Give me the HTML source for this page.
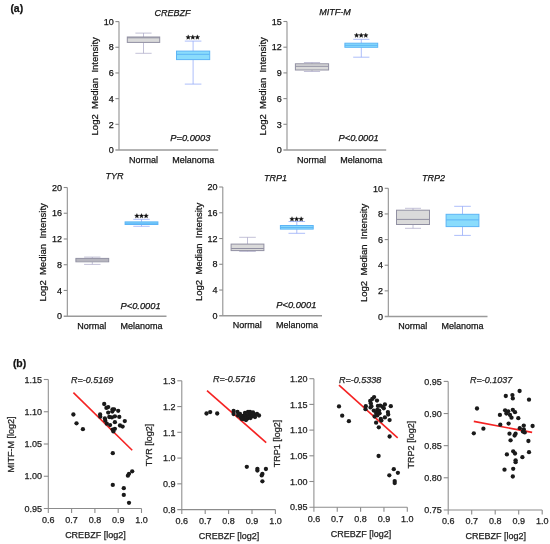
<!DOCTYPE html>
<html><head><meta charset="utf-8"><title>Figure</title>
<style>
html,body{margin:0;padding:0;background:#fff;width:550px;height:544px;overflow:hidden}
svg{display:block;font-family:"Liberation Sans",sans-serif;will-change:transform;filter:blur(0.3px)}
text{stroke:#222;stroke-width:0.25px;paint-order:stroke}
</style></head>
<body>
<svg width="550" height="544" viewBox="0 0 550 544">
<rect width="550" height="544" fill="#fff"/>
<text x="10.4" y="11.7" font-size="10.4" text-anchor="start" fill="#111" font-weight="bold" >(a)</text>
<text x="12.9" y="366.6" font-size="10.4" text-anchor="start" fill="#111" font-weight="bold" >(b)</text>
<line x1="119" y1="21.6" x2="119" y2="150" stroke="#8c8c8c" stroke-width="1.05"/>
<line x1="115.4" y1="150" x2="218.2" y2="150" stroke="#9a9a9a" stroke-width="1.6"/>
<text x="113.8" y="153.2" font-size="9" text-anchor="end" fill="#111"  >0</text>
<line x1="115.4" y1="124.32" x2="119" y2="124.32" stroke="#8c8c8c" stroke-width="1.1"/>
<text x="113.8" y="127.52" font-size="9" text-anchor="end" fill="#111"  >2</text>
<line x1="115.4" y1="98.64" x2="119" y2="98.64" stroke="#8c8c8c" stroke-width="1.1"/>
<text x="113.8" y="101.84" font-size="9" text-anchor="end" fill="#111"  >4</text>
<line x1="115.4" y1="72.96000000000001" x2="119" y2="72.96000000000001" stroke="#8c8c8c" stroke-width="1.1"/>
<text x="113.8" y="76.16000000000001" font-size="9" text-anchor="end" fill="#111"  >6</text>
<line x1="115.4" y1="47.28" x2="119" y2="47.28" stroke="#8c8c8c" stroke-width="1.1"/>
<text x="113.8" y="50.480000000000004" font-size="9" text-anchor="end" fill="#111"  >8</text>
<line x1="115.4" y1="21.599999999999994" x2="119" y2="21.599999999999994" stroke="#8c8c8c" stroke-width="1.1"/>
<text x="113.8" y="24.799999999999994" font-size="9" text-anchor="end" fill="#111"  >10</text>
<text x="172.4" y="15.6" font-size="9" text-anchor="middle" fill="#111" font-style="italic" >CREBZF</text>
<text x="210.4" y="140.8" font-size="9.3" text-anchor="end" fill="#111" font-style="italic" >P=0.0003</text>
<text x="143.5" y="162.6" font-size="9" text-anchor="middle" fill="#111"  >Normal</text>
<text x="193.2" y="162.6" font-size="9" text-anchor="middle" fill="#111"  >Melanoma</text>
<text x="98" y="86.3" font-size="9.5" text-anchor="middle" fill="#111"  transform="rotate(-90 98 86.3)" >Log2&#160;&#160;Median&#160;&#160;Intensity</text>
<line x1="143.5" y1="33.1" x2="143.5" y2="37.0" stroke="#adabc8" stroke-width="0.75"/>
<line x1="143.5" y1="42.4" x2="143.5" y2="53.3" stroke="#adabc8" stroke-width="0.75"/>
<line x1="135.4" y1="33.1" x2="151.6" y2="33.1" stroke="#adabc8" stroke-width="0.75"/>
<line x1="135.4" y1="53.3" x2="151.6" y2="53.3" stroke="#adabc8" stroke-width="0.75"/>
<rect x="127.3" y="37.0" width="32.4" height="5.399999999999999" fill="#dadada" stroke="#9190a2" stroke-width="1"/>
<line x1="127.3" y1="37.8" x2="159.7" y2="37.8" stroke="#9190a2" stroke-width="1"/>
<line x1="193.1" y1="41.1" x2="193.1" y2="51.1" stroke="#92a8f8" stroke-width="0.75"/>
<line x1="193.1" y1="59.6" x2="193.1" y2="84.1" stroke="#92a8f8" stroke-width="0.75"/>
<line x1="184.79999999999998" y1="41.1" x2="201.4" y2="41.1" stroke="#92a8f8" stroke-width="0.75"/>
<line x1="184.79999999999998" y1="84.1" x2="201.4" y2="84.1" stroke="#92a8f8" stroke-width="0.75"/>
<rect x="176.5" y="51.1" width="33.2" height="8.5" fill="#8adcfc" stroke="#5cb4f6" stroke-width="1"/>
<line x1="176.5" y1="54.3" x2="209.7" y2="54.3" stroke="#5cb4f6" stroke-width="1"/>
<polygon points="188.20,34.85 188.85,36.41 190.53,36.54 189.25,37.64 189.64,39.28 188.20,38.40 186.76,39.28 187.15,37.64 185.87,36.54 187.55,36.41" fill="#111" stroke="#111" stroke-width="0.3" stroke-linejoin="round"/>
<polygon points="192.80,34.85 193.45,36.41 195.13,36.54 193.85,37.64 194.24,39.28 192.80,38.40 191.36,39.28 191.75,37.64 190.47,36.54 192.15,36.41" fill="#111" stroke="#111" stroke-width="0.3" stroke-linejoin="round"/>
<polygon points="197.40,34.85 198.05,36.41 199.73,36.54 198.45,37.64 198.84,39.28 197.40,38.40 195.96,39.28 196.35,37.64 195.07,36.54 196.75,36.41" fill="#111" stroke="#111" stroke-width="0.3" stroke-linejoin="round"/>
<line x1="287" y1="21.5" x2="287" y2="150" stroke="#8c8c8c" stroke-width="1.05"/>
<line x1="283.4" y1="150" x2="386.2" y2="150" stroke="#9a9a9a" stroke-width="1.6"/>
<text x="281.8" y="153.2" font-size="9" text-anchor="end" fill="#111"  >0</text>
<line x1="283.4" y1="124.3" x2="287" y2="124.3" stroke="#8c8c8c" stroke-width="1.1"/>
<text x="281.8" y="127.5" font-size="9" text-anchor="end" fill="#111"  >3</text>
<line x1="283.4" y1="98.6" x2="287" y2="98.6" stroke="#8c8c8c" stroke-width="1.1"/>
<text x="281.8" y="101.8" font-size="9" text-anchor="end" fill="#111"  >6</text>
<line x1="283.4" y1="72.9" x2="287" y2="72.9" stroke="#8c8c8c" stroke-width="1.1"/>
<text x="281.8" y="76.10000000000001" font-size="9" text-anchor="end" fill="#111"  >9</text>
<line x1="283.4" y1="47.2" x2="287" y2="47.2" stroke="#8c8c8c" stroke-width="1.1"/>
<text x="281.8" y="50.400000000000006" font-size="9" text-anchor="end" fill="#111"  >12</text>
<line x1="283.4" y1="21.5" x2="287" y2="21.5" stroke="#8c8c8c" stroke-width="1.1"/>
<text x="281.8" y="24.7" font-size="9" text-anchor="end" fill="#111"  >15</text>
<text x="335.0" y="14.6" font-size="9" text-anchor="middle" fill="#111" font-style="italic" >MITF-M</text>
<text x="378.6" y="140.6" font-size="9.3" text-anchor="end" fill="#111" font-style="italic" >P&lt;0.0001</text>
<text x="311.5" y="162.6" font-size="9" text-anchor="middle" fill="#111"  >Normal</text>
<text x="361.2" y="162.6" font-size="9" text-anchor="middle" fill="#111"  >Melanoma</text>
<text x="266" y="86.25" font-size="9.5" text-anchor="middle" fill="#111"  transform="rotate(-90 266 86.25)" >Log2&#160;&#160;Median&#160;&#160;Intensity</text>
<line x1="312.0" y1="62.5" x2="312.0" y2="63.8" stroke="#adabc8" stroke-width="0.75"/>
<line x1="312.0" y1="70.0" x2="312.0" y2="71.5" stroke="#adabc8" stroke-width="0.75"/>
<line x1="303.9" y1="62.5" x2="320.1" y2="62.5" stroke="#adabc8" stroke-width="0.75"/>
<line x1="303.9" y1="71.5" x2="320.1" y2="71.5" stroke="#adabc8" stroke-width="0.75"/>
<rect x="295.4" y="63.8" width="33.2" height="6.200000000000003" fill="#dadada" stroke="#9190a2" stroke-width="1"/>
<line x1="295.4" y1="66.3" x2="328.6" y2="66.3" stroke="#9190a2" stroke-width="1"/>
<line x1="361.3" y1="39.3" x2="361.3" y2="43.2" stroke="#92a8f8" stroke-width="0.75"/>
<line x1="361.3" y1="47.3" x2="361.3" y2="57.2" stroke="#92a8f8" stroke-width="0.75"/>
<line x1="353.2" y1="39.3" x2="369.40000000000003" y2="39.3" stroke="#92a8f8" stroke-width="0.75"/>
<line x1="353.2" y1="57.2" x2="369.40000000000003" y2="57.2" stroke="#92a8f8" stroke-width="0.75"/>
<rect x="344.90000000000003" y="43.2" width="32.8" height="4.099999999999994" fill="#8adcfc" stroke="#5cb4f6" stroke-width="1"/>
<line x1="344.90000000000003" y1="45.3" x2="377.7" y2="45.3" stroke="#5cb4f6" stroke-width="1"/>
<polygon points="356.60,32.95 357.25,34.51 358.93,34.64 357.65,35.74 358.04,37.38 356.60,36.50 355.16,37.38 355.55,35.74 354.27,34.64 355.95,34.51" fill="#111" stroke="#111" stroke-width="0.3" stroke-linejoin="round"/>
<polygon points="361.20,32.95 361.85,34.51 363.53,34.64 362.25,35.74 362.64,37.38 361.20,36.50 359.76,37.38 360.15,35.74 358.87,34.64 360.55,34.51" fill="#111" stroke="#111" stroke-width="0.3" stroke-linejoin="round"/>
<polygon points="365.80,32.95 366.45,34.51 368.13,34.64 366.85,35.74 367.24,37.38 365.80,36.50 364.36,37.38 364.75,35.74 363.47,34.64 365.15,34.51" fill="#111" stroke="#111" stroke-width="0.3" stroke-linejoin="round"/>
<line x1="67.3" y1="187.5" x2="67.3" y2="316.2" stroke="#8c8c8c" stroke-width="1.05"/>
<line x1="63.699999999999996" y1="316.2" x2="166.5" y2="316.2" stroke="#9a9a9a" stroke-width="1.6"/>
<text x="62.099999999999994" y="319.4" font-size="9" text-anchor="end" fill="#111"  >0</text>
<line x1="63.699999999999996" y1="290.46" x2="67.3" y2="290.46" stroke="#8c8c8c" stroke-width="1.1"/>
<text x="62.099999999999994" y="293.65999999999997" font-size="9" text-anchor="end" fill="#111"  >4</text>
<line x1="63.699999999999996" y1="264.71999999999997" x2="67.3" y2="264.71999999999997" stroke="#8c8c8c" stroke-width="1.1"/>
<text x="62.099999999999994" y="267.91999999999996" font-size="9" text-anchor="end" fill="#111"  >8</text>
<line x1="63.699999999999996" y1="238.98" x2="67.3" y2="238.98" stroke="#8c8c8c" stroke-width="1.1"/>
<text x="62.099999999999994" y="242.17999999999998" font-size="9" text-anchor="end" fill="#111"  >12</text>
<line x1="63.699999999999996" y1="213.24" x2="67.3" y2="213.24" stroke="#8c8c8c" stroke-width="1.1"/>
<text x="62.099999999999994" y="216.44" font-size="9" text-anchor="end" fill="#111"  >16</text>
<line x1="63.699999999999996" y1="187.5" x2="67.3" y2="187.5" stroke="#8c8c8c" stroke-width="1.1"/>
<text x="62.099999999999994" y="190.7" font-size="9" text-anchor="end" fill="#111"  >20</text>
<text x="114.5" y="179.4" font-size="9" text-anchor="middle" fill="#111" font-style="italic" >TYR</text>
<text x="160.6" y="308.6" font-size="9.3" text-anchor="end" fill="#111" font-style="italic" >P&lt;0.0001</text>
<text x="91.8" y="328.8" font-size="9" text-anchor="middle" fill="#111"  >Normal</text>
<text x="141.5" y="328.8" font-size="9" text-anchor="middle" fill="#111"  >Melanoma</text>
<text x="46.3" y="252.35" font-size="9.5" text-anchor="middle" fill="#111"  transform="rotate(-90 46.3 252.35)" >Log2&#160;&#160;Median&#160;&#160;Intensity</text>
<line x1="92.3" y1="257.1" x2="92.3" y2="258.4" stroke="#adabc8" stroke-width="0.75"/>
<line x1="92.3" y1="261.8" x2="92.3" y2="264.4" stroke="#adabc8" stroke-width="0.75"/>
<line x1="84.1" y1="257.1" x2="100.5" y2="257.1" stroke="#adabc8" stroke-width="0.75"/>
<line x1="84.1" y1="264.4" x2="100.5" y2="264.4" stroke="#adabc8" stroke-width="0.75"/>
<rect x="75.9" y="258.4" width="32.8" height="3.400000000000034" fill="#dadada" stroke="#9190a2" stroke-width="1"/>
<line x1="75.9" y1="260.0" x2="108.69999999999999" y2="260.0" stroke="#9190a2" stroke-width="1"/>
<line x1="141.5" y1="219.3" x2="141.5" y2="221.9" stroke="#92a8f8" stroke-width="0.75"/>
<line x1="141.5" y1="224.5" x2="141.5" y2="226.3" stroke="#92a8f8" stroke-width="0.75"/>
<line x1="133.3" y1="219.3" x2="149.7" y2="219.3" stroke="#92a8f8" stroke-width="0.75"/>
<line x1="133.3" y1="226.3" x2="149.7" y2="226.3" stroke="#92a8f8" stroke-width="0.75"/>
<rect x="125.1" y="221.9" width="32.8" height="2.5999999999999943" fill="#8adcfc" stroke="#5cb4f6" stroke-width="1"/>
<line x1="125.1" y1="223.2" x2="157.9" y2="223.2" stroke="#5cb4f6" stroke-width="1"/>
<polygon points="136.90,213.55 137.55,215.11 139.23,215.24 137.95,216.34 138.34,217.98 136.90,217.10 135.46,217.98 135.85,216.34 134.57,215.24 136.25,215.11" fill="#111" stroke="#111" stroke-width="0.3" stroke-linejoin="round"/>
<polygon points="141.50,213.55 142.15,215.11 143.83,215.24 142.55,216.34 142.94,217.98 141.50,217.10 140.06,217.98 140.45,216.34 139.17,215.24 140.85,215.11" fill="#111" stroke="#111" stroke-width="0.3" stroke-linejoin="round"/>
<polygon points="146.10,213.55 146.75,215.11 148.43,215.24 147.15,216.34 147.54,217.98 146.10,217.10 144.66,217.98 145.05,216.34 143.77,215.24 145.45,215.11" fill="#111" stroke="#111" stroke-width="0.3" stroke-linejoin="round"/>
<line x1="222.8" y1="187.0" x2="222.8" y2="315.8" stroke="#8c8c8c" stroke-width="1.05"/>
<line x1="219.20000000000002" y1="315.8" x2="322.0" y2="315.8" stroke="#9a9a9a" stroke-width="1.6"/>
<text x="217.60000000000002" y="319.0" font-size="9" text-anchor="end" fill="#111"  >0</text>
<line x1="219.20000000000002" y1="290.04" x2="222.8" y2="290.04" stroke="#8c8c8c" stroke-width="1.1"/>
<text x="217.60000000000002" y="293.24" font-size="9" text-anchor="end" fill="#111"  >4</text>
<line x1="219.20000000000002" y1="264.28000000000003" x2="222.8" y2="264.28000000000003" stroke="#8c8c8c" stroke-width="1.1"/>
<text x="217.60000000000002" y="267.48" font-size="9" text-anchor="end" fill="#111"  >8</text>
<line x1="219.20000000000002" y1="238.52" x2="222.8" y2="238.52" stroke="#8c8c8c" stroke-width="1.1"/>
<text x="217.60000000000002" y="241.72" font-size="9" text-anchor="end" fill="#111"  >12</text>
<line x1="219.20000000000002" y1="212.76" x2="222.8" y2="212.76" stroke="#8c8c8c" stroke-width="1.1"/>
<text x="217.60000000000002" y="215.95999999999998" font-size="9" text-anchor="end" fill="#111"  >16</text>
<line x1="219.20000000000002" y1="187.0" x2="222.8" y2="187.0" stroke="#8c8c8c" stroke-width="1.1"/>
<text x="217.60000000000002" y="190.2" font-size="9" text-anchor="end" fill="#111"  >20</text>
<text x="275.6" y="180.8" font-size="9" text-anchor="middle" fill="#111" font-style="italic" >TRP1</text>
<text x="316.4" y="308.4" font-size="9.3" text-anchor="end" fill="#111" font-style="italic" >P&lt;0.0001</text>
<text x="247.3" y="328.40000000000003" font-size="9" text-anchor="middle" fill="#111"  >Normal</text>
<text x="297.0" y="328.40000000000003" font-size="9" text-anchor="middle" fill="#111"  >Melanoma</text>
<text x="201.8" y="251.9" font-size="9.5" text-anchor="middle" fill="#111"  transform="rotate(-90 201.8 251.9)" >Log2&#160;&#160;Median&#160;&#160;Intensity</text>
<line x1="247.5" y1="237.3" x2="247.5" y2="244.1" stroke="#adabc8" stroke-width="0.75"/>
<line x1="247.5" y1="250.6" x2="247.5" y2="251.4" stroke="#adabc8" stroke-width="0.75"/>
<line x1="239.2" y1="237.3" x2="255.8" y2="237.3" stroke="#adabc8" stroke-width="0.75"/>
<line x1="239.2" y1="251.4" x2="255.8" y2="251.4" stroke="#adabc8" stroke-width="0.75"/>
<rect x="231.1" y="244.1" width="32.8" height="6.5" fill="#dadada" stroke="#9190a2" stroke-width="1"/>
<line x1="231.1" y1="248.5" x2="263.9" y2="248.5" stroke="#9190a2" stroke-width="1"/>
<line x1="296.8" y1="221.5" x2="296.8" y2="225.5" stroke="#92a8f8" stroke-width="0.75"/>
<line x1="296.8" y1="229.1" x2="296.8" y2="233.3" stroke="#92a8f8" stroke-width="0.75"/>
<line x1="288.5" y1="221.5" x2="305.1" y2="221.5" stroke="#92a8f8" stroke-width="0.75"/>
<line x1="288.5" y1="233.3" x2="305.1" y2="233.3" stroke="#92a8f8" stroke-width="0.75"/>
<rect x="280.40000000000003" y="225.5" width="32.8" height="3.5999999999999943" fill="#8adcfc" stroke="#5cb4f6" stroke-width="1"/>
<line x1="280.40000000000003" y1="227.4" x2="313.2" y2="227.4" stroke="#5cb4f6" stroke-width="1"/>
<polygon points="292.00,216.65 292.65,218.21 294.33,218.34 293.05,219.44 293.44,221.08 292.00,220.20 290.56,221.08 290.95,219.44 289.67,218.34 291.35,218.21" fill="#111" stroke="#111" stroke-width="0.3" stroke-linejoin="round"/>
<polygon points="296.60,216.65 297.25,218.21 298.93,218.34 297.65,219.44 298.04,221.08 296.60,220.20 295.16,221.08 295.55,219.44 294.27,218.34 295.95,218.21" fill="#111" stroke="#111" stroke-width="0.3" stroke-linejoin="round"/>
<polygon points="301.20,216.65 301.85,218.21 303.53,218.34 302.25,219.44 302.64,221.08 301.20,220.20 299.76,221.08 300.15,219.44 298.87,218.34 300.55,218.21" fill="#111" stroke="#111" stroke-width="0.3" stroke-linejoin="round"/>
<line x1="388.3" y1="188.3" x2="388.3" y2="316.5" stroke="#8c8c8c" stroke-width="1.05"/>
<line x1="384.7" y1="316.5" x2="487.5" y2="316.5" stroke="#9a9a9a" stroke-width="1.6"/>
<text x="383.1" y="319.7" font-size="9" text-anchor="end" fill="#111"  >0</text>
<line x1="384.7" y1="290.86" x2="388.3" y2="290.86" stroke="#8c8c8c" stroke-width="1.1"/>
<text x="383.1" y="294.06" font-size="9" text-anchor="end" fill="#111"  >2</text>
<line x1="384.7" y1="265.22" x2="388.3" y2="265.22" stroke="#8c8c8c" stroke-width="1.1"/>
<text x="383.1" y="268.42" font-size="9" text-anchor="end" fill="#111"  >4</text>
<line x1="384.7" y1="239.58" x2="388.3" y2="239.58" stroke="#8c8c8c" stroke-width="1.1"/>
<text x="383.1" y="242.78" font-size="9" text-anchor="end" fill="#111"  >6</text>
<line x1="384.7" y1="213.94" x2="388.3" y2="213.94" stroke="#8c8c8c" stroke-width="1.1"/>
<text x="383.1" y="217.14" font-size="9" text-anchor="end" fill="#111"  >8</text>
<line x1="384.7" y1="188.3" x2="388.3" y2="188.3" stroke="#8c8c8c" stroke-width="1.1"/>
<text x="383.1" y="191.5" font-size="9" text-anchor="end" fill="#111"  >10</text>
<text x="433.6" y="181.3" font-size="9" text-anchor="middle" fill="#111" font-style="italic" >TRP2</text>
<text x="412.8" y="329.1" font-size="9" text-anchor="middle" fill="#111"  >Normal</text>
<text x="462.5" y="329.1" font-size="9" text-anchor="middle" fill="#111"  >Melanoma</text>
<text x="367.3" y="252.9" font-size="9.5" text-anchor="middle" fill="#111"  transform="rotate(-90 367.3 252.9)" >Log2&#160;&#160;Median&#160;&#160;Intensity</text>
<line x1="413.0" y1="208.3" x2="413.0" y2="210.2" stroke="#adabc8" stroke-width="0.75"/>
<line x1="413.0" y1="224.5" x2="413.0" y2="228.3" stroke="#adabc8" stroke-width="0.75"/>
<line x1="405.0" y1="208.3" x2="421.0" y2="208.3" stroke="#adabc8" stroke-width="0.75"/>
<line x1="405.0" y1="228.3" x2="421.0" y2="228.3" stroke="#adabc8" stroke-width="0.75"/>
<rect x="396.5" y="210.2" width="33.0" height="14.300000000000011" fill="#dadada" stroke="#9190a2" stroke-width="1"/>
<line x1="396.5" y1="219.4" x2="429.5" y2="219.4" stroke="#9190a2" stroke-width="1"/>
<line x1="462.5" y1="206.3" x2="462.5" y2="214.3" stroke="#92a8f8" stroke-width="0.75"/>
<line x1="462.5" y1="226.6" x2="462.5" y2="235.4" stroke="#92a8f8" stroke-width="0.75"/>
<line x1="454.2" y1="206.3" x2="470.8" y2="206.3" stroke="#92a8f8" stroke-width="0.75"/>
<line x1="454.2" y1="235.4" x2="470.8" y2="235.4" stroke="#92a8f8" stroke-width="0.75"/>
<rect x="446.1" y="214.3" width="32.8" height="12.299999999999983" fill="#8adcfc" stroke="#5cb4f6" stroke-width="1"/>
<line x1="446.1" y1="219.9" x2="478.9" y2="219.9" stroke="#5cb4f6" stroke-width="1"/>
<line x1="48.3" y1="379.5" x2="48.3" y2="513.0" stroke="#8c8c8c" stroke-width="1.05"/>
<line x1="43.8" y1="508.5" x2="141.5" y2="508.5" stroke="#8c8c8c" stroke-width="1.05"/>
<text x="42.0" y="511.7" font-size="9" text-anchor="end" fill="#222"  >0.95</text>
<line x1="43.8" y1="476.25" x2="48.3" y2="476.25" stroke="#8c8c8c" stroke-width="1.1"/>
<text x="42.0" y="479.45" font-size="9" text-anchor="end" fill="#222"  >1.00</text>
<line x1="43.8" y1="444.0" x2="48.3" y2="444.0" stroke="#8c8c8c" stroke-width="1.1"/>
<text x="42.0" y="447.2" font-size="9" text-anchor="end" fill="#222"  >1.05</text>
<line x1="43.8" y1="411.75" x2="48.3" y2="411.75" stroke="#8c8c8c" stroke-width="1.1"/>
<text x="42.0" y="414.95" font-size="9" text-anchor="end" fill="#222"  >1.10</text>
<line x1="43.8" y1="379.5" x2="48.3" y2="379.5" stroke="#8c8c8c" stroke-width="1.1"/>
<text x="42.0" y="382.7" font-size="9" text-anchor="end" fill="#222"  >1.15</text>
<text x="48.3" y="522.8" font-size="9" text-anchor="middle" fill="#222"  >0.6</text>
<line x1="71.6" y1="508.5" x2="71.6" y2="513.0" stroke="#8c8c8c" stroke-width="1.1"/>
<text x="71.6" y="522.8" font-size="9" text-anchor="middle" fill="#222"  >0.7</text>
<line x1="94.9" y1="508.5" x2="94.9" y2="513.0" stroke="#8c8c8c" stroke-width="1.1"/>
<text x="94.9" y="522.8" font-size="9" text-anchor="middle" fill="#222"  >0.8</text>
<line x1="118.2" y1="508.5" x2="118.2" y2="513.0" stroke="#8c8c8c" stroke-width="1.1"/>
<text x="118.2" y="522.8" font-size="9" text-anchor="middle" fill="#222"  >0.9</text>
<line x1="141.5" y1="508.5" x2="141.5" y2="513.0" stroke="#8c8c8c" stroke-width="1.1"/>
<text x="141.5" y="522.8" font-size="9" text-anchor="middle" fill="#222"  >1.0</text>
<text x="95.4" y="538.0" font-size="9" text-anchor="middle" fill="#222"  >CREBZF [log2]</text>
<text x="14.4" y="444.4" font-size="9" text-anchor="middle" fill="#222"  transform="rotate(-90 14.4 444.4)" >MITF-M [log2]</text>
<text x="71" y="383.2" font-size="9" text-anchor="start" fill="#222" font-style="italic" >R=-0.5169</text>
<line x1="73.4" y1="392.6" x2="132.2" y2="450.3" stroke="#f52222" stroke-width="1.6"/>
<circle cx="73.4" cy="414.5" r="2.15" fill="#1a1a1a"/>
<circle cx="76.5" cy="423.3" r="2.15" fill="#1a1a1a"/>
<circle cx="82.9" cy="429.2" r="2.15" fill="#1a1a1a"/>
<circle cx="112.8" cy="453.2" r="2.15" fill="#1a1a1a"/>
<circle cx="104.2" cy="404" r="2.15" fill="#1a1a1a"/>
<circle cx="106.4" cy="407.9" r="2.15" fill="#1a1a1a"/>
<circle cx="108.2" cy="407.1" r="2.15" fill="#1a1a1a"/>
<circle cx="112.6" cy="409.3" r="2.15" fill="#1a1a1a"/>
<circle cx="114.1" cy="409.3" r="2.15" fill="#1a1a1a"/>
<circle cx="118.2" cy="410.8" r="2.15" fill="#1a1a1a"/>
<circle cx="108.2" cy="412.6" r="2.15" fill="#1a1a1a"/>
<circle cx="112.3" cy="411.5" r="2.15" fill="#1a1a1a"/>
<circle cx="100.1" cy="414.5" r="2.15" fill="#1a1a1a"/>
<circle cx="100.3" cy="416.7" r="2.15" fill="#1a1a1a"/>
<circle cx="109.3" cy="417" r="2.15" fill="#1a1a1a"/>
<circle cx="111.9" cy="417.4" r="2.15" fill="#1a1a1a"/>
<circle cx="114.9" cy="416.3" r="2.15" fill="#1a1a1a"/>
<circle cx="119.3" cy="416.9" r="2.15" fill="#1a1a1a"/>
<circle cx="104.9" cy="418.5" r="2.15" fill="#1a1a1a"/>
<circle cx="105.3" cy="420.7" r="2.15" fill="#1a1a1a"/>
<circle cx="114.9" cy="422.2" r="2.15" fill="#1a1a1a"/>
<circle cx="124.8" cy="421.1" r="2.15" fill="#1a1a1a"/>
<circle cx="106.8" cy="423.7" r="2.15" fill="#1a1a1a"/>
<circle cx="110.1" cy="425.1" r="2.15" fill="#1a1a1a"/>
<circle cx="120" cy="425.5" r="2.15" fill="#1a1a1a"/>
<circle cx="122.6" cy="426.6" r="2.15" fill="#1a1a1a"/>
<circle cx="112.6" cy="429.6" r="2.15" fill="#1a1a1a"/>
<circle cx="114.9" cy="428.8" r="2.15" fill="#1a1a1a"/>
<circle cx="113.4" cy="431.4" r="2.15" fill="#1a1a1a"/>
<circle cx="132.2" cy="471.3" r="2.15" fill="#1a1a1a"/>
<circle cx="129" cy="473.8" r="2.15" fill="#1a1a1a"/>
<circle cx="127.9" cy="475.7" r="2.15" fill="#1a1a1a"/>
<circle cx="112.8" cy="484.9" r="2.15" fill="#1a1a1a"/>
<circle cx="123.8" cy="488.2" r="2.15" fill="#1a1a1a"/>
<circle cx="123.8" cy="494.9" r="2.15" fill="#1a1a1a"/>
<circle cx="129" cy="502.8" r="2.15" fill="#1a1a1a"/>
<line x1="181.8" y1="380.8" x2="181.8" y2="514.1" stroke="#8c8c8c" stroke-width="1.05"/>
<line x1="177.3" y1="509.6" x2="275.4" y2="509.6" stroke="#8c8c8c" stroke-width="1.05"/>
<text x="175.5" y="512.8000000000001" font-size="9" text-anchor="end" fill="#222"  >0.8</text>
<line x1="177.3" y1="483.84000000000003" x2="181.8" y2="483.84000000000003" stroke="#8c8c8c" stroke-width="1.1"/>
<text x="175.5" y="487.04" font-size="9" text-anchor="end" fill="#222"  >0.9</text>
<line x1="177.3" y1="458.08000000000004" x2="181.8" y2="458.08000000000004" stroke="#8c8c8c" stroke-width="1.1"/>
<text x="175.5" y="461.28000000000003" font-size="9" text-anchor="end" fill="#222"  >1.0</text>
<line x1="177.3" y1="432.32000000000005" x2="181.8" y2="432.32000000000005" stroke="#8c8c8c" stroke-width="1.1"/>
<text x="175.5" y="435.52000000000004" font-size="9" text-anchor="end" fill="#222"  >1.1</text>
<line x1="177.3" y1="406.56" x2="181.8" y2="406.56" stroke="#8c8c8c" stroke-width="1.1"/>
<text x="175.5" y="409.76" font-size="9" text-anchor="end" fill="#222"  >1.2</text>
<line x1="177.3" y1="380.8" x2="181.8" y2="380.8" stroke="#8c8c8c" stroke-width="1.1"/>
<text x="175.5" y="384.0" font-size="9" text-anchor="end" fill="#222"  >1.3</text>
<text x="181.8" y="523.9" font-size="9" text-anchor="middle" fill="#222"  >0.6</text>
<line x1="205.20000000000002" y1="509.6" x2="205.20000000000002" y2="514.1" stroke="#8c8c8c" stroke-width="1.1"/>
<text x="205.20000000000002" y="523.9" font-size="9" text-anchor="middle" fill="#222"  >0.7</text>
<line x1="228.60000000000002" y1="509.6" x2="228.60000000000002" y2="514.1" stroke="#8c8c8c" stroke-width="1.1"/>
<text x="228.60000000000002" y="523.9" font-size="9" text-anchor="middle" fill="#222"  >0.8</text>
<line x1="252.0" y1="509.6" x2="252.0" y2="514.1" stroke="#8c8c8c" stroke-width="1.1"/>
<text x="252.0" y="523.9" font-size="9" text-anchor="middle" fill="#222"  >0.9</text>
<line x1="275.4" y1="509.6" x2="275.4" y2="514.1" stroke="#8c8c8c" stroke-width="1.1"/>
<text x="275.4" y="523.9" font-size="9" text-anchor="middle" fill="#222"  >1.0</text>
<text x="229.10000000000002" y="539.1" font-size="9" text-anchor="middle" fill="#222"  >CREBZF [log2]</text>
<text x="152.3" y="445.0" font-size="9" text-anchor="middle" fill="#222"  transform="rotate(-90 152.3 445.0)" >TYR [log2]</text>
<text x="213.1" y="382.1" font-size="9" text-anchor="start" fill="#222" font-style="italic" >R=-0.5716</text>
<line x1="207" y1="390.7" x2="266.2" y2="442.6" stroke="#f52222" stroke-width="1.6"/>
<circle cx="206.5" cy="413.5" r="2.15" fill="#1a1a1a"/>
<circle cx="210.2" cy="412.1" r="2.15" fill="#1a1a1a"/>
<circle cx="217.2" cy="413.5" r="2.15" fill="#1a1a1a"/>
<circle cx="233.6" cy="411" r="2.15" fill="#1a1a1a"/>
<circle cx="233.6" cy="414" r="2.15" fill="#1a1a1a"/>
<circle cx="237.5" cy="412" r="2.15" fill="#1a1a1a"/>
<circle cx="238" cy="415.5" r="2.15" fill="#1a1a1a"/>
<circle cx="240" cy="414" r="2.15" fill="#1a1a1a"/>
<circle cx="241" cy="417.5" r="2.15" fill="#1a1a1a"/>
<circle cx="243" cy="416" r="2.15" fill="#1a1a1a"/>
<circle cx="244" cy="419" r="2.15" fill="#1a1a1a"/>
<circle cx="245" cy="413" r="2.15" fill="#1a1a1a"/>
<circle cx="246" cy="416" r="2.15" fill="#1a1a1a"/>
<circle cx="247.5" cy="418.5" r="2.15" fill="#1a1a1a"/>
<circle cx="248" cy="412" r="2.15" fill="#1a1a1a"/>
<circle cx="249" cy="415" r="2.15" fill="#1a1a1a"/>
<circle cx="250" cy="412" r="2.15" fill="#1a1a1a"/>
<circle cx="250.5" cy="418" r="2.15" fill="#1a1a1a"/>
<circle cx="251" cy="415" r="2.15" fill="#1a1a1a"/>
<circle cx="252.5" cy="416" r="2.15" fill="#1a1a1a"/>
<circle cx="253" cy="412.5" r="2.15" fill="#1a1a1a"/>
<circle cx="254" cy="414.5" r="2.15" fill="#1a1a1a"/>
<circle cx="255" cy="417" r="2.15" fill="#1a1a1a"/>
<circle cx="257" cy="414" r="2.15" fill="#1a1a1a"/>
<circle cx="259" cy="415.5" r="2.15" fill="#1a1a1a"/>
<circle cx="246" cy="420" r="2.15" fill="#1a1a1a"/>
<circle cx="242" cy="419" r="2.15" fill="#1a1a1a"/>
<circle cx="246.8" cy="466.8" r="2.15" fill="#1a1a1a"/>
<circle cx="257.4" cy="468.8" r="2.15" fill="#1a1a1a"/>
<circle cx="257.4" cy="470.6" r="2.15" fill="#1a1a1a"/>
<circle cx="265.9" cy="469" r="2.15" fill="#1a1a1a"/>
<circle cx="262.4" cy="473.9" r="2.15" fill="#1a1a1a"/>
<circle cx="261.7" cy="475.4" r="2.15" fill="#1a1a1a"/>
<circle cx="262.4" cy="481.3" r="2.15" fill="#1a1a1a"/>
<line x1="313.9" y1="378.7" x2="313.9" y2="511.7" stroke="#8c8c8c" stroke-width="1.05"/>
<line x1="309.4" y1="507.2" x2="407.29999999999995" y2="507.2" stroke="#8c8c8c" stroke-width="1.05"/>
<text x="307.59999999999997" y="510.4" font-size="9" text-anchor="end" fill="#222"  >0.95</text>
<line x1="309.4" y1="481.5" x2="313.9" y2="481.5" stroke="#8c8c8c" stroke-width="1.1"/>
<text x="307.59999999999997" y="484.7" font-size="9" text-anchor="end" fill="#222"  >1.00</text>
<line x1="309.4" y1="455.8" x2="313.9" y2="455.8" stroke="#8c8c8c" stroke-width="1.1"/>
<text x="307.59999999999997" y="459.0" font-size="9" text-anchor="end" fill="#222"  >1.05</text>
<line x1="309.4" y1="430.1" x2="313.9" y2="430.1" stroke="#8c8c8c" stroke-width="1.1"/>
<text x="307.59999999999997" y="433.3" font-size="9" text-anchor="end" fill="#222"  >1.10</text>
<line x1="309.4" y1="404.4" x2="313.9" y2="404.4" stroke="#8c8c8c" stroke-width="1.1"/>
<text x="307.59999999999997" y="407.59999999999997" font-size="9" text-anchor="end" fill="#222"  >1.15</text>
<line x1="309.4" y1="378.7" x2="313.9" y2="378.7" stroke="#8c8c8c" stroke-width="1.1"/>
<text x="307.59999999999997" y="381.9" font-size="9" text-anchor="end" fill="#222"  >1.20</text>
<text x="313.9" y="521.5" font-size="9" text-anchor="middle" fill="#222"  >0.6</text>
<line x1="337.25" y1="507.2" x2="337.25" y2="511.7" stroke="#8c8c8c" stroke-width="1.1"/>
<text x="337.25" y="521.5" font-size="9" text-anchor="middle" fill="#222"  >0.7</text>
<line x1="360.59999999999997" y1="507.2" x2="360.59999999999997" y2="511.7" stroke="#8c8c8c" stroke-width="1.1"/>
<text x="360.59999999999997" y="521.5" font-size="9" text-anchor="middle" fill="#222"  >0.8</text>
<line x1="383.95" y1="507.2" x2="383.95" y2="511.7" stroke="#8c8c8c" stroke-width="1.1"/>
<text x="383.95" y="521.5" font-size="9" text-anchor="middle" fill="#222"  >0.9</text>
<line x1="407.29999999999995" y1="507.2" x2="407.29999999999995" y2="511.7" stroke="#8c8c8c" stroke-width="1.1"/>
<text x="407.29999999999995" y="521.5" font-size="9" text-anchor="middle" fill="#222"  >1.0</text>
<text x="361.09999999999997" y="536.7" font-size="9" text-anchor="middle" fill="#222"  >CREBZF [log2]</text>
<text x="279.6" y="443.4" font-size="9" text-anchor="middle" fill="#222"  transform="rotate(-90 279.6 443.4)" >TRP1 [log2]</text>
<text x="339" y="382.9" font-size="9" text-anchor="start" fill="#222" font-style="italic" >R=-0.5338</text>
<line x1="339" y1="385.2" x2="397.7" y2="437.8" stroke="#f52222" stroke-width="1.6"/>
<circle cx="339" cy="406.4" r="2.15" fill="#1a1a1a"/>
<circle cx="342.2" cy="415.7" r="2.15" fill="#1a1a1a"/>
<circle cx="348.9" cy="421.2" r="2.15" fill="#1a1a1a"/>
<circle cx="374.1" cy="397.1" r="2.15" fill="#1a1a1a"/>
<circle cx="372.3" cy="398.9" r="2.15" fill="#1a1a1a"/>
<circle cx="370.2" cy="400.9" r="2.15" fill="#1a1a1a"/>
<circle cx="377" cy="400.6" r="2.15" fill="#1a1a1a"/>
<circle cx="370.8" cy="403.3" r="2.15" fill="#1a1a1a"/>
<circle cx="371.4" cy="406.2" r="2.15" fill="#1a1a1a"/>
<circle cx="370.5" cy="407.4" r="2.15" fill="#1a1a1a"/>
<circle cx="365.8" cy="406.2" r="2.15" fill="#1a1a1a"/>
<circle cx="365.5" cy="409.2" r="2.15" fill="#1a1a1a"/>
<circle cx="384.9" cy="404.5" r="2.15" fill="#1a1a1a"/>
<circle cx="377.9" cy="405.9" r="2.15" fill="#1a1a1a"/>
<circle cx="380.2" cy="405.6" r="2.15" fill="#1a1a1a"/>
<circle cx="382.6" cy="406.8" r="2.15" fill="#1a1a1a"/>
<circle cx="390.8" cy="406.2" r="2.15" fill="#1a1a1a"/>
<circle cx="383.8" cy="408.3" r="2.15" fill="#1a1a1a"/>
<circle cx="373.8" cy="410.6" r="2.15" fill="#1a1a1a"/>
<circle cx="377.3" cy="409.8" r="2.15" fill="#1a1a1a"/>
<circle cx="379.1" cy="410.6" r="2.15" fill="#1a1a1a"/>
<circle cx="376.1" cy="413" r="2.15" fill="#1a1a1a"/>
<circle cx="379.6" cy="413.3" r="2.15" fill="#1a1a1a"/>
<circle cx="387.9" cy="412.1" r="2.15" fill="#1a1a1a"/>
<circle cx="388.2" cy="414.5" r="2.15" fill="#1a1a1a"/>
<circle cx="374.6" cy="416.5" r="2.15" fill="#1a1a1a"/>
<circle cx="377.3" cy="415.4" r="2.15" fill="#1a1a1a"/>
<circle cx="384.9" cy="417.4" r="2.15" fill="#1a1a1a"/>
<circle cx="380.8" cy="418.9" r="2.15" fill="#1a1a1a"/>
<circle cx="381.4" cy="420.6" r="2.15" fill="#1a1a1a"/>
<circle cx="389.6" cy="420.1" r="2.15" fill="#1a1a1a"/>
<circle cx="376.1" cy="422.7" r="2.15" fill="#1a1a1a"/>
<circle cx="378.8" cy="427.3" r="2.15" fill="#1a1a1a"/>
<circle cx="389.6" cy="436.5" r="2.15" fill="#1a1a1a"/>
<circle cx="378.6" cy="456" r="2.15" fill="#1a1a1a"/>
<circle cx="393.8" cy="469.2" r="2.15" fill="#1a1a1a"/>
<circle cx="397.9" cy="472.8" r="2.15" fill="#1a1a1a"/>
<circle cx="389.3" cy="475.3" r="2.15" fill="#1a1a1a"/>
<circle cx="394.7" cy="481.1" r="2.15" fill="#1a1a1a"/>
<circle cx="394.7" cy="483.1" r="2.15" fill="#1a1a1a"/>
<line x1="448.2" y1="381.4" x2="448.2" y2="514.4" stroke="#8c8c8c" stroke-width="1.05"/>
<line x1="443.7" y1="509.9" x2="542.2" y2="509.9" stroke="#8c8c8c" stroke-width="1.05"/>
<text x="441.9" y="513.1" font-size="9" text-anchor="end" fill="#222"  >0.75</text>
<line x1="443.7" y1="477.775" x2="448.2" y2="477.775" stroke="#8c8c8c" stroke-width="1.1"/>
<text x="441.9" y="480.97499999999997" font-size="9" text-anchor="end" fill="#222"  >0.80</text>
<line x1="443.7" y1="445.65" x2="448.2" y2="445.65" stroke="#8c8c8c" stroke-width="1.1"/>
<text x="441.9" y="448.84999999999997" font-size="9" text-anchor="end" fill="#222"  >0.85</text>
<line x1="443.7" y1="413.525" x2="448.2" y2="413.525" stroke="#8c8c8c" stroke-width="1.1"/>
<text x="441.9" y="416.72499999999997" font-size="9" text-anchor="end" fill="#222"  >0.90</text>
<line x1="443.7" y1="381.4" x2="448.2" y2="381.4" stroke="#8c8c8c" stroke-width="1.1"/>
<text x="441.9" y="384.59999999999997" font-size="9" text-anchor="end" fill="#222"  >0.95</text>
<text x="448.2" y="524.1999999999999" font-size="9" text-anchor="middle" fill="#222"  >0.6</text>
<line x1="471.7" y1="509.9" x2="471.7" y2="514.4" stroke="#8c8c8c" stroke-width="1.1"/>
<text x="471.7" y="524.1999999999999" font-size="9" text-anchor="middle" fill="#222"  >0.7</text>
<line x1="495.2" y1="509.9" x2="495.2" y2="514.4" stroke="#8c8c8c" stroke-width="1.1"/>
<text x="495.2" y="524.1999999999999" font-size="9" text-anchor="middle" fill="#222"  >0.8</text>
<line x1="518.7" y1="509.9" x2="518.7" y2="514.4" stroke="#8c8c8c" stroke-width="1.1"/>
<text x="518.7" y="524.1999999999999" font-size="9" text-anchor="middle" fill="#222"  >0.9</text>
<line x1="542.2" y1="509.9" x2="542.2" y2="514.4" stroke="#8c8c8c" stroke-width="1.1"/>
<text x="542.2" y="524.1999999999999" font-size="9" text-anchor="middle" fill="#222"  >1.0</text>
<text x="495.7" y="539.4" font-size="9" text-anchor="middle" fill="#222"  >CREBZF [log2]</text>
<text x="414.2" y="444.6" font-size="9" text-anchor="middle" fill="#222"  transform="rotate(-90 414.2 444.6)" >TRP2 [log2]</text>
<text x="470" y="382.7" font-size="9" text-anchor="start" fill="#222" font-style="italic" >R=-0.1037</text>
<line x1="473.8" y1="421.4" x2="532.1" y2="432.4" stroke="#f52222" stroke-width="1.6"/>
<circle cx="519.6" cy="391" r="2.15" fill="#1a1a1a"/>
<circle cx="505.8" cy="396" r="2.15" fill="#1a1a1a"/>
<circle cx="512.4" cy="395.1" r="2.15" fill="#1a1a1a"/>
<circle cx="512.8" cy="398.4" r="2.15" fill="#1a1a1a"/>
<circle cx="529" cy="399.7" r="2.15" fill="#1a1a1a"/>
<circle cx="477" cy="408.5" r="2.15" fill="#1a1a1a"/>
<circle cx="505.1" cy="410.3" r="2.15" fill="#1a1a1a"/>
<circle cx="508.2" cy="411.3" r="2.15" fill="#1a1a1a"/>
<circle cx="512.8" cy="409.8" r="2.15" fill="#1a1a1a"/>
<circle cx="515" cy="412.2" r="2.15" fill="#1a1a1a"/>
<circle cx="506.4" cy="413.5" r="2.15" fill="#1a1a1a"/>
<circle cx="499.9" cy="414.9" r="2.15" fill="#1a1a1a"/>
<circle cx="510" cy="414.9" r="2.15" fill="#1a1a1a"/>
<circle cx="511.5" cy="417.7" r="2.15" fill="#1a1a1a"/>
<circle cx="518.3" cy="418.2" r="2.15" fill="#1a1a1a"/>
<circle cx="508.6" cy="423.6" r="2.15" fill="#1a1a1a"/>
<circle cx="500.3" cy="424.7" r="2.15" fill="#1a1a1a"/>
<circle cx="523.8" cy="425.6" r="2.15" fill="#1a1a1a"/>
<circle cx="532.6" cy="426" r="2.15" fill="#1a1a1a"/>
<circle cx="519.8" cy="428.2" r="2.15" fill="#1a1a1a"/>
<circle cx="483.4" cy="428.7" r="2.15" fill="#1a1a1a"/>
<circle cx="523.8" cy="429.3" r="2.15" fill="#1a1a1a"/>
<circle cx="522.9" cy="431.5" r="2.15" fill="#1a1a1a"/>
<circle cx="524.7" cy="432.4" r="2.15" fill="#1a1a1a"/>
<circle cx="473.8" cy="433.3" r="2.15" fill="#1a1a1a"/>
<circle cx="509.5" cy="433.7" r="2.15" fill="#1a1a1a"/>
<circle cx="515.6" cy="433.7" r="2.15" fill="#1a1a1a"/>
<circle cx="514.6" cy="435.5" r="2.15" fill="#1a1a1a"/>
<circle cx="510.6" cy="440.3" r="2.15" fill="#1a1a1a"/>
<circle cx="528.4" cy="441" r="2.15" fill="#1a1a1a"/>
<circle cx="513.2" cy="451.3" r="2.15" fill="#1a1a1a"/>
<circle cx="515" cy="453.5" r="2.15" fill="#1a1a1a"/>
<circle cx="506.9" cy="454.4" r="2.15" fill="#1a1a1a"/>
<circle cx="529" cy="452.2" r="2.15" fill="#1a1a1a"/>
<circle cx="522.4" cy="457.2" r="2.15" fill="#1a1a1a"/>
<circle cx="515.6" cy="460.3" r="2.15" fill="#1a1a1a"/>
<circle cx="515.6" cy="462.2" r="2.15" fill="#1a1a1a"/>
<circle cx="504.5" cy="469.7" r="2.15" fill="#1a1a1a"/>
<circle cx="513.2" cy="468.8" r="2.15" fill="#1a1a1a"/>
<circle cx="512.8" cy="476.5" r="2.15" fill="#1a1a1a"/>
</svg>
</body></html>
